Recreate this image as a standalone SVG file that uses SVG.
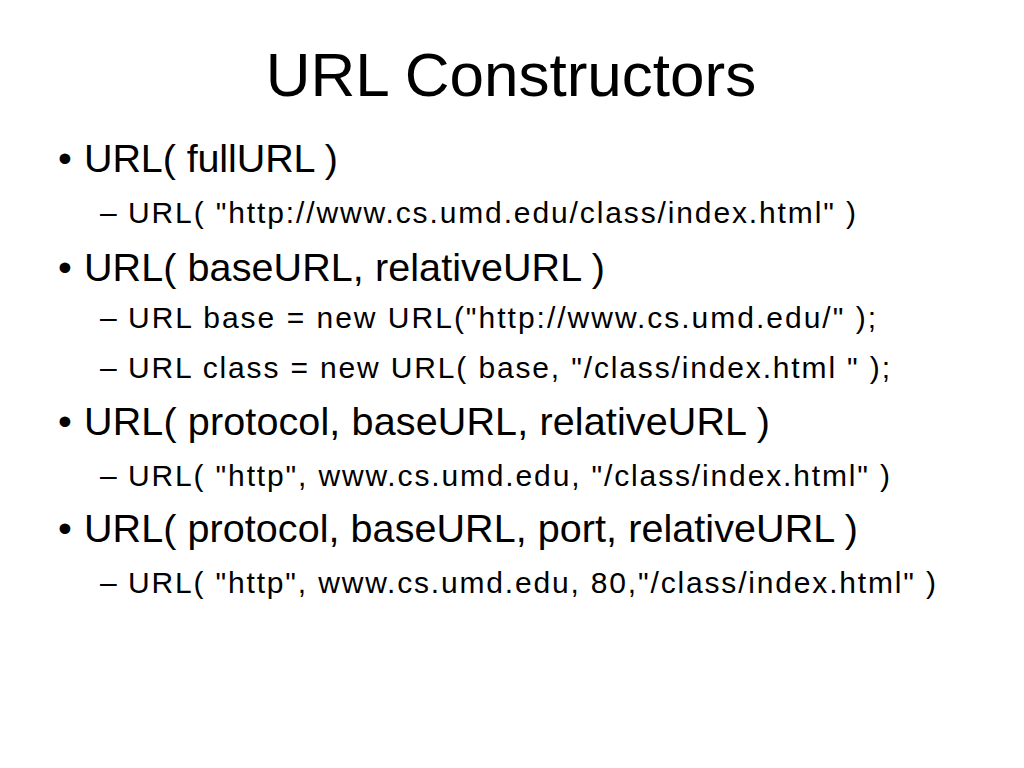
<svg xmlns="http://www.w3.org/2000/svg" width="1024" height="768" viewBox="0 0 1024 768">
<style>
text{font-family:"Liberation Sans",Arial,sans-serif;fill:#000}
.t{font-size:62px}
.b{font-size:39.5px}
.s{font-size:30px}
</style>
<rect width="1024" height="768" fill="#fff"/>
<text class="t" x="511" y="96" text-anchor="middle">URL Constructors</text>
<g id="items">
<text class="b" x="58" y="172">•</text><text class="b" x="84" y="172" textLength="254">URL( fullURL )</text>
<text class="s" x="100" y="223">–</text><text class="s" x="128" y="223" textLength="728">URL( "http://www.cs.umd.edu/class/index.html" )</text>
<text class="b" x="58" y="281">•</text><text class="b" x="84" y="281" textLength="521">URL( baseURL, relativeURL )</text>
<text class="s" x="100" y="328">–</text><text class="s" x="128" y="328" textLength="748">URL base = new URL("http://www.cs.umd.edu/" );</text>
<text class="s" x="100" y="378">–</text><text class="s" x="128" y="378" textLength="762">URL class = new URL( base, "/class/index.html " );</text>
<text class="b" x="58" y="435">•</text><text class="b" x="84" y="435" textLength="686">URL( protocol, baseURL, relativeURL )</text>
<text class="s" x="100" y="486">–</text><text class="s" x="128" y="486" textLength="762">URL( "http", www.cs.umd.edu, "/class/index.html" )</text>
<text class="b" x="58" y="542">•</text><text class="b" x="84" y="542" textLength="774">URL( protocol, baseURL, port, relativeURL )</text>
<text class="s" x="100" y="593">–</text><text class="s" x="128" y="593" textLength="808">URL( "http", www.cs.umd.edu, 80,"/class/index.html" )</text>
</g>
</svg>
